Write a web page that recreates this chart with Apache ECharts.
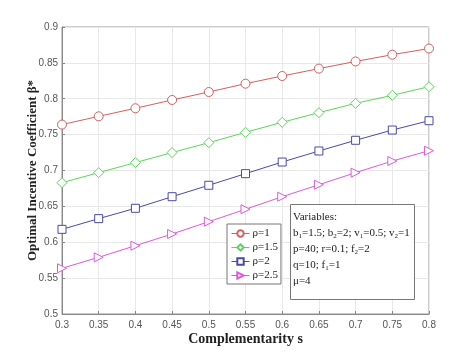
<!DOCTYPE html>
<html><head><meta charset="utf-8">
<script src="https://cdn.jsdelivr.net/npm/echarts@6/dist/echarts.min.js"></script>
<style>html,body{margin:0;padding:0;background:#fff}#c{width:474px;height:353px}</style>
</head><body><div id="c"></div>
<script>
const sValues = [0.3,0.35,0.4,0.45,0.5,0.55,0.6,0.65,0.7,0.75,0.8];
const rho1   = [0.764,0.7755,0.7867,0.7983,0.8094,0.821,0.8317,0.842,0.852,0.8614,0.870];
const rho1_5 = [0.683,0.697,0.711,0.725,0.7388,0.7532,0.7672,0.7806,0.7936,0.8048,0.8168];
const rho2   = [0.618,0.6329,0.6473,0.6635,0.6794,0.6956,0.7118,0.7272,0.7421,0.7564,0.7694];
const rho2_5 = [0.5637,0.579,0.5952,0.6115,0.6287,0.646,0.6635,0.6802,0.697,0.7132,0.7276];
const seriesNames = ['ρ=1','ρ=1.5','ρ=2','ρ=2.5'];
const yTicks = [0.5,0.55,0.6,0.65,0.7,0.75,0.8,0.85,0.9];
const xTicks = [0.3,0.35,0.4,0.45,0.5,0.55,0.6,0.65,0.7,0.75,0.8];

const colors = ['#d26060','#5ad65a','#4a4aa8','#dc5adc'];
const symbols = ['circle','diamond','rect','path://M0,0 L10,5 L0,10 Z'];
const sizes = [9,10,8,9];
const datas = [rho1,rho1_5,rho2,rho2_5];

const chart = echarts.init(document.getElementById('c'));
const serif = '"Liberation Serif","Times New Roman",serif';
chart.setOption({
  animation:false,
  backgroundColor:'#fff',
  grid:{left:62,right:45,top:27,bottom:39,show:true,borderColor:'#999',borderWidth:1,backgroundColor:'transparent'},
  xAxis:{type:'value',min:0.3,max:0.8,interval:0.05,
    name:'Complementarity s',nameLocation:'middle',nameGap:18,nameMoveOverlap:false,
    nameTextStyle:{fontFamily:serif,fontWeight:'bold',fontSize:14,color:'#222',verticalAlign:'top'},
    axisLine:{lineStyle:{color:'#888'}},
    axisTick:{inside:true,length:3,lineStyle:{color:'#888'}},
    axisLabel:{color:'#555',fontSize:10,fontFamily:'"Liberation Sans",Arial,sans-serif',margin:6,
      formatter:v=>{const t=xTicks.find(x=>Math.abs(x-v)<1e-9);return t===undefined?'':String(t);}},
    splitLine:{show:true,lineStyle:{color:'#e8e8e8'}}},
  yAxis:{type:'value',min:0.5,max:0.9,interval:0.05,
    name:'Optimal Incentive Coefficient β*',nameLocation:'middle',nameGap:23,nameMoveOverlap:false,
    nameTextStyle:{fontFamily:serif,fontWeight:'bold',fontSize:13,color:'#222'},
    axisLine:{show:true,lineStyle:{color:'#888'}},
    axisTick:{show:true,inside:true,length:3,lineStyle:{color:'#888'}},
    axisLabel:{color:'#555',fontSize:10,fontFamily:'"Liberation Sans",Arial,sans-serif',margin:4,
      formatter:v=>{const t=yTicks.find(x=>Math.abs(x-v)<1e-9);return t===undefined?'':String(t);}},
    splitLine:{show:true,lineStyle:{color:'#e8e8e8'}}},
  legend:{orient:'vertical',left:227,top:224,itemWidth:18,itemHeight:8,itemGap:3,
    padding:[4,3,3,4],borderColor:'#777',borderWidth:1,backgroundColor:'#fff',
    lineStyle:{width:1},
    textStyle:{fontFamily:serif,fontSize:11,color:'#222',padding:[0,0,0,-2],lineHeight:11},
    data:seriesNames},
  series:datas.map((d,i)=>({
    name:seriesNames[i],type:'line',
    data:sValues.map((s,j)=>[s,d[j]]),
    symbol:symbols[i],symbolSize:sizes[i],showAllSymbol:true,
    lineStyle:{color:colors[i],width:1},
    itemStyle:{color:'#fff',borderColor:colors[i],borderWidth:1},
    z:2
  })),
  graphic:[
    {type:'rect',left:290,top:204,shape:{width:124,height:95},
     style:{fill:'#fff',stroke:'#777',lineWidth:1},z:10},
    {type:'text',left:293,top:209,z:11,
     style:{fontFamily:serif,fontSize:11,fill:'#222',lineHeight:16,
       text:'Variables:\nb{s|1}=1.5; b{s|2}=2; v{s|1}=0.5; v{s|2}=1\np=40; r=0.1; f{s|2}=2\nq=10; f{s|1}=1\nμ=4',
       rich:{s:{fontFamily:serif,fontSize:7,fill:'#222',padding:[7,0,0,0]}}}}
  ]
});
</script></body></html>
